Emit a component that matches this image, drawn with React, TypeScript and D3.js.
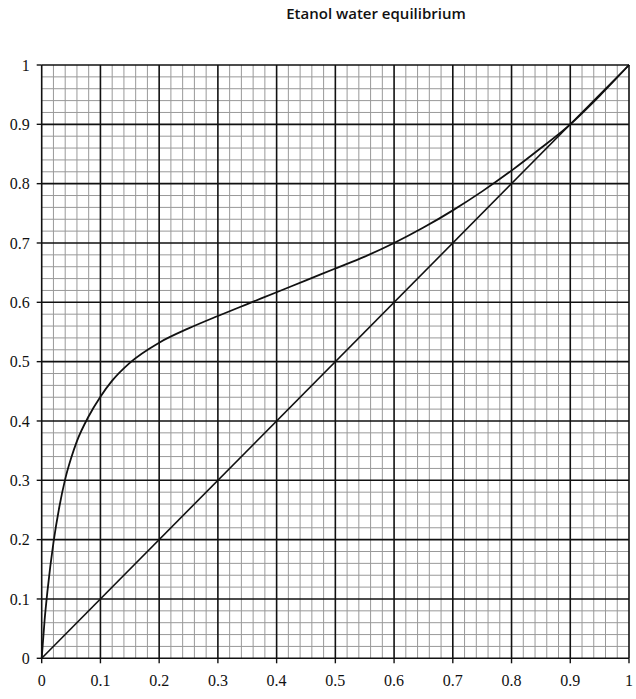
import React, { useEffect, useRef } from 'react';
import * as d3 from 'd3';

// liquid mole fraction ethanol (x) vs vapour mole fraction (y)
const xLiquid = [0, 0.005, 0.01, 0.02, 0.03, 0.04, 0.05, 0.06, 0.08, 0.1, 0.12, 0.15, 0.2, 0.25, 0.3, 0.35, 0.4, 0.45, 0.5, 0.55, 0.6, 0.65, 0.7, 0.75, 0.8, 0.85, 0.9, 0.95, 1];
const yVapour = [0, 0.065, 0.115, 0.195, 0.255, 0.302, 0.337, 0.366, 0.408, 0.441, 0.468, 0.498, 0.532, 0.556, 0.577, 0.597, 0.617, 0.637, 0.657, 0.677, 0.7, 0.726, 0.755, 0.787, 0.822, 0.86, 0.9, 0.948, 1];
const diagonal = [0, 1];
const majorTicks = [0, 0.1, 0.2, 0.3, 0.4, 0.5, 0.6, 0.7, 0.8, 0.9, 1];
const minorTicks = d3.range(0, 51).map(i => i / 50);
const title = 'Etanol water equilibrium';

const W = 636;
const H = 699;
const margin = { top: 65, right: 7, bottom: 40.7, left: 41.7 };
const labelFont = '"Liberation Serif", "DejaVu Serif", serif';

const App: React.FC = () => {
  const svgRef = useRef<SVGSVGElement>(null);

  useEffect(() => {
    if (!svgRef.current) return;
    const svg = d3.select(svgRef.current);
    svg.selectAll('*').remove();

    const innerW = W - margin.left - margin.right;
    const innerH = H - margin.top - margin.bottom;
    const x = d3.scaleLinear().domain([0, 1]).range([0, innerW]);
    const y = d3.scaleLinear().domain([0, 1]).range([innerH, 0]);

    svg.append('text')
      .attr('x', 376)
      .attr('y', 19)
      .attr('text-anchor', 'middle')
      .style('font-family', '"Open Sans", sans-serif')
      .style('font-size', '15px')
      .style('font-weight', 600)
      .attr('fill', '#111')
      .text(title);

    const g = svg.append('g').attr('transform', `translate(${margin.left},${margin.top})`);

    // minor grid
    const minor = minorTicks.filter(t => Math.round(t * 50) % 5 !== 0);
    g.append('g').selectAll('line').data(minor).join('line')
      .attr('x1', d => x(d)).attr('x2', d => x(d))
      .attr('y1', 0).attr('y2', innerH)
      .attr('stroke', '#999').attr('stroke-width', 1);
    g.append('g').selectAll('line').data(minor).join('line')
      .attr('y1', d => y(d)).attr('y2', d => y(d))
      .attr('x1', 0).attr('x2', innerW)
      .attr('stroke', '#999').attr('stroke-width', 1);

    // major grid
    g.append('g').selectAll('line').data(majorTicks).join('line')
      .attr('x1', d => x(d)).attr('x2', d => x(d))
      .attr('y1', 0).attr('y2', innerH)
      .attr('stroke', '#111').attr('stroke-width', 1.6);
    g.append('g').selectAll('line').data(majorTicks).join('line')
      .attr('y1', d => y(d)).attr('y2', d => y(d))
      .attr('x1', 0).attr('x2', innerW)
      .attr('stroke', '#111').attr('stroke-width', 1.6);

    // tick marks outside the frame
    g.append('g').selectAll('line').data(majorTicks).join('line')
      .attr('x1', d => x(d)).attr('x2', d => x(d))
      .attr('y1', innerH).attr('y2', innerH + 5)
      .attr('stroke', '#111').attr('stroke-width', 1.4);
    g.append('g').selectAll('line').data(majorTicks).join('line')
      .attr('y1', d => y(d)).attr('y2', d => y(d))
      .attr('x1', -5).attr('x2', 0)
      .attr('stroke', '#111').attr('stroke-width', 1.4);

    // tick labels
    const fmt = (d: number) => String(+d);
    g.append('g').selectAll('text').data(majorTicks).join('text')
      .attr('x', d => x(d))
      .attr('y', innerH + 28)
      .attr('text-anchor', 'middle')
      .attr('font-family', labelFont)
      .attr('font-size', 16)
      .attr('fill', '#111')
      .text(fmt);
    g.append('g').selectAll('text').data(majorTicks).join('text')
      .attr('x', -12)
      .attr('y', d => y(d))
      .attr('dy', '0.35em')
      .attr('text-anchor', 'end')
      .attr('font-family', labelFont)
      .attr('font-size', 16)
      .attr('fill', '#111')
      .text(fmt);

    // diagonal y = x
    g.append('path')
      .datum(diagonal)
      .attr('d', d3.line<number>().x(d => x(d)).y(d => y(d)))
      .attr('fill', 'none')
      .attr('stroke', '#111')
      .attr('stroke-width', 1.6);

    // equilibrium curve
    const pts = xLiquid.map((v, i) => [v, yVapour[i]] as [number, number]);
    g.append('path')
      .datum(pts)
      .attr('d', d3.line<[number, number]>().x(d => x(d[0])).y(d => y(d[1])).curve(d3.curveMonotoneX))
      .attr('fill', 'none')
      .attr('stroke', '#111')
      .attr('stroke-width', 1.8);
  }, []);

  return (
    <svg
      ref={svgRef}
      width={W}
      height={H}
      style={{ position: 'absolute', left: 0, top: 0, background: '#fff' }}
    />
  );
};

export default App;
